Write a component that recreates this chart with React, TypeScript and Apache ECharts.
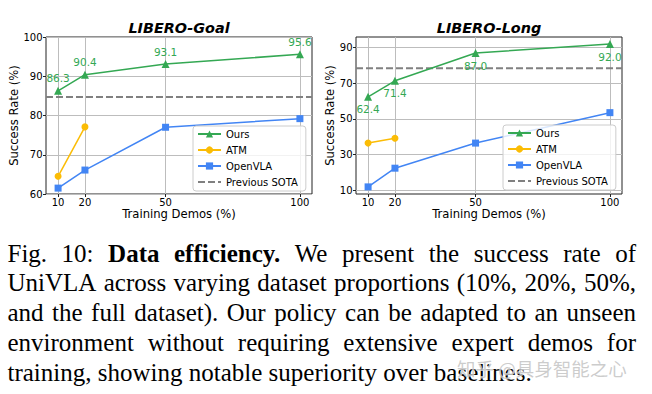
import React, { useEffect, useRef } from 'react';
import * as echarts from 'echarts';

// ---------- data ----------
const demos = [10, 20, 50, 100];
const demosATM = [10, 20];

const goalOurs = [86.3, 90.4, 93.1, 95.6];
const goalATM = [64.5, 77.1];
const goalOpenVLA = [61.5, 66.1, 77.0, 79.2];
const goalSOTA = 84.7;

const longOurs = [62.4, 71.4, 87.0, 92.0];
const longATM = [36.4, 39.1];
const longOpenVLA = [11.8, 22.3, 36.4, 53.5];
const longSOTA = 78.5;

const longYTicks = [10, 30, 50, 70, 90];
const xTicks = [10, 20, 50, 100];

const titles = ['LIBERO-Goal', 'LIBERO-Long'];
const seriesNames = ['Ours', 'ATM', 'OpenVLA', 'Previous SOTA'];
const xAxisName = 'Training Demos (%)';
const yAxisName = 'Success Rate (%)';

const captionLines = [
  'Fig. 10: Data efficiency. We present the success rate of',
  'UniVLA across varying dataset proportions (10%, 20%, 50%,',
  'and the full dataset). Our policy can be adapted to an unseen',
  'environment without requiring extensive expert demos for',
  'training, showing notable superiority over baselines.',
];
const boldWords = ['Data', 'efficiency.'];
const watermark = '知乎 @具身智能之心';

// ---------- styles ----------
const GREEN = '#34A853';
const YELLOW = '#FBBC05';
const BLUE = '#4285F4';
const GRAY = '#808080';
const FONT = 'DejaVu Sans';
const SERIF = 'Liberation Serif';

const X_MIN = 5.5;
const X_MAX = 104.5;

export default function App() {
  const ref = useRef<HTMLDivElement>(null);

  useEffect(() => {
    if (!ref.current) return;
    const chart = echarts.init(ref.current, undefined, { renderer: 'svg' });

    const grids = [
      { left: 46, top: 37, width: 266, height: 157 },
      { left: 356, top: 37, width: 266, height: 157 },
    ];

    const axisCommon = {
      axisLine: { show: false },
      axisTick: { show: true, length: 3, lineStyle: { color: '#222', width: 1 } },
      splitLine: { show: true, lineStyle: { color: '#bdbdbd', width: 1 } },
    };

    const xAxes = [0, 1].map((gi) => ({
      type: 'value',
      gridIndex: gi,
      min: X_MIN,
      max: X_MAX,
      name: xAxisName,
      nameLocation: 'middle',
      nameGap: 12,
      nameTextStyle: { fontFamily: FONT, fontSize: 11.6, color: '#000' },
      ...axisCommon,
      axisTick: { ...axisCommon.axisTick, customValues: xTicks },
      axisLabel: { customValues: xTicks, fontFamily: FONT, fontSize: 10, color: '#000', margin: 3 },
    }));

    const yAxes = [
      {
        type: 'value',
        gridIndex: 0,
        min: 60,
        max: 100,
        interval: 10,
        name: yAxisName,
        nameLocation: 'middle',
        nameGap: 20,
        nameTextStyle: { fontFamily: FONT, fontSize: 11.6, color: '#000' },
        ...axisCommon,
        axisLabel: { fontFamily: FONT, fontSize: 10, color: '#000', margin: 3.5 },
      },
      {
        type: 'value',
        gridIndex: 1,
        min: 7.8,
        max: 96,
        name: yAxisName,
        nameLocation: 'middle',
        nameGap: 14,
        nameTextStyle: { fontFamily: FONT, fontSize: 11.6, color: '#000' },
        ...axisCommon,
        axisTick: { ...axisCommon.axisTick, customValues: longYTicks },
        axisLabel: { customValues: longYTicks, fontFamily: FONT, fontSize: 10, color: '#000', margin: 3.5 },
      },
    ];

    const pts = (xs: number[], ys: number[]) => ys.map((v, i) => [xs[i], v]);

    const makeSeries = (gi: number, ours: number[], atm: number[], ovla: number[], sota: number, labelPos: string) => [
      {
        type: 'line',
        name: seriesNames[0],
        xAxisIndex: gi,
        yAxisIndex: gi,
        data: pts(demos, ours),
        symbol: 'triangle',
        symbolSize: 8,
        lineStyle: { color: GREEN, width: 1.5 },
        itemStyle: { color: GREEN },
        label: {
          show: true,
          position: labelPos,
          distance: 3,
          color: GREEN,
          fontFamily: FONT,
          fontSize: 10.5,
          formatter: (p: any) => Number(p.value[1]).toFixed(1),
        },
        z: 5,
      },
      {
        type: 'line',
        name: seriesNames[1],
        xAxisIndex: gi,
        yAxisIndex: gi,
        data: pts(demosATM, atm),
        symbol: 'circle',
        symbolSize: 7,
        lineStyle: { color: YELLOW, width: 1.5 },
        itemStyle: { color: YELLOW },
        z: 4,
      },
      {
        type: 'line',
        name: seriesNames[2],
        xAxisIndex: gi,
        yAxisIndex: gi,
        data: pts(demos, ovla),
        symbol: 'rect',
        symbolSize: 7,
        lineStyle: { color: BLUE, width: 1.5 },
        itemStyle: { color: BLUE },
        z: 3,
      },
      {
        type: 'line',
        name: seriesNames[3],
        xAxisIndex: gi,
        yAxisIndex: gi,
        data: [[X_MIN, sota], [X_MAX, sota]],
        symbol: 'none',
        lineStyle: { color: GRAY, width: 2, type: [7, 3] },
        itemStyle: { color: GRAY },
        z: 2,
      },
    ];

    const legendCommon = {
      orient: 'vertical',
      padding: [3, 8, 4, 4],
      itemWidth: 23,
      itemHeight: 9,
      itemGap: 6,
      backgroundColor: 'rgba(255,255,255,0.8)',
      borderColor: '#cccccc',
      borderWidth: 1,
      borderRadius: 3,
      textStyle: { fontFamily: FONT, fontSize: 10, color: '#000' },
      data: seriesNames.map((n, i) =>
        i === 3
          ? { name: n, itemStyle: { color: 'rgba(0,0,0,0)', borderWidth: 0, opacity: 0 } }
          : { name: n }
      ),
      selectedMode: false,
    };

    // ---------- caption (justified) ----------
    const ctx = document.createElement('canvas').getContext('2d')!;
    const FS = 25;
    const fontOf = (bold: boolean) => `${bold ? 'bold ' : ''}${FS}px "${SERIF}"`;
    const measure = (t: string, bold: boolean) => {
      ctx.font = fontOf(bold);
      return ctx.measureText(t).width;
    };
    const L = 7.5;
    const R = 636;
    const baseline0 = 261.5;
    const lineStep = 29.8;
    const captionEls: any[] = [];
    captionLines.forEach((line, li) => {
      const words = line.split(' ');
      const isBold = (w: string) => li === 0 && boldWords.includes(w);
      const widths = words.map((w) => measure(w, isBold(w)));
      const sum = widths.reduce((a, b) => a + b, 0);
      const last = li === captionLines.length - 1;
      const gap = last ? measure(' ', false) : (R - L - sum) / (words.length - 1);
      let x = L;
      const y = baseline0 + li * lineStep - 0.3375 * FS;
      words.forEach((w, wi) => {
        captionEls.push({
          type: 'text',
          x,
          y,
          silent: true,
          style: {
            text: w,
            x: 0,
            y: 0,
            font: fontOf(isBold(w)),
            fill: '#000',
            verticalAlign: 'middle',
            align: 'left',
          },
        });
        x += widths[wi] + gap;
      });
    });

    captionEls.push({
      type: 'text',
      x: 457,
      y: 368,
      silent: true,
      z: 100,
      style: {
        text: watermark,
        x: 0,
        y: 0,
        font: `18.5px "Noto Sans CJK SC"`,
        fill: 'rgba(185,185,185,0.72)',
        stroke: 'rgba(255,255,255,0.7)',
        lineWidth: 1,
        verticalAlign: 'middle',
        align: 'left',
      },
    });

    chart.setOption({
      animation: false,
      backgroundColor: '#ffffff',
      title: titles.map((t, i) => ({
        text: t,
        left: grids[i].left + grids[i].width / 2,
        top: 21,
        textAlign: 'center',
        padding: 0,
        textStyle: { fontFamily: FONT, fontSize: 14.4, fontWeight: 'bold', fontStyle: 'italic', color: '#000' },
      })),
      grid: grids.map((g) => ({ ...g, show: true, borderColor: '#222', borderWidth: 1, backgroundColor: 'transparent' })),
      xAxis: xAxes,
      yAxis: yAxes,
      legend: [
        { ...legendCommon, left: 193, top: 126 },
        { ...legendCommon, left: 503, top: 125 },
      ],
      series: [
        ...makeSeries(0, goalOurs, goalATM, goalOpenVLA, goalSOTA, 'top'),
        ...makeSeries(1, longOurs, longATM, longOpenVLA, longSOTA, 'bottom'),
      ],
      graphic: captionEls,
    });

    return () => chart.dispose();
  }, []);

  return (
    <div
      ref={ref}
      style={{ position: 'absolute', left: 0, top: 0, width: 652, height: 394, background: '#fff' }}
    />
  );
}
